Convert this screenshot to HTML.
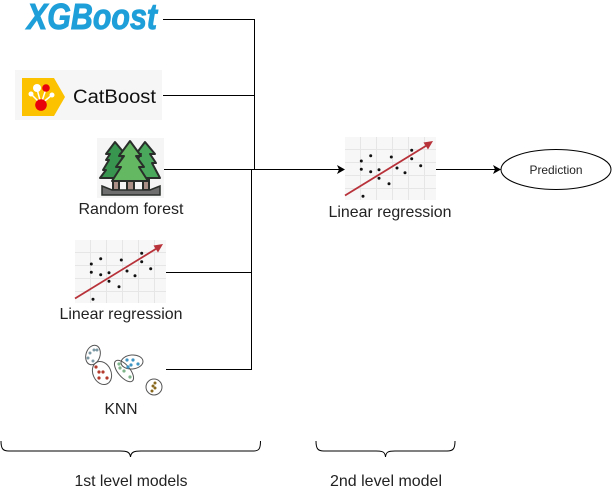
<!DOCTYPE html>
<html><head><meta charset="utf-8"><style>
html,body{margin:0;padding:0;background:#fff}
svg{display:block}
text{font-family:"Liberation Sans",sans-serif;fill:#222}
</style></head><body>
<svg width="612" height="491" viewBox="0 0 612 491" xmlns="http://www.w3.org/2000/svg">
<defs>
<g id="lr">
<rect x="0" y="0" width="91" height="63" fill="#f7f7f7"/>
<g stroke="#e6e6e6" stroke-width="1" fill="none">
<path d="M15.500 0V63M31.500 0V63M47.500 0V63M63.500 0V63M79.500 0V63M0 12.500H91M0 25.500H91M0 38.500H91M0 51.500H91"/>
</g>
<g fill="#111">
<circle cx="16.300" cy="24" r="1.500"/><circle cx="25.700" cy="18.700" r="1.500"/><circle cx="16.300" cy="32.300" r="1.500"/>
<circle cx="25.700" cy="34.700" r="1.500"/><circle cx="34" cy="32.700" r="1.500"/><circle cx="34" cy="41.300" r="1.500"/>
<circle cx="44" cy="46.700" r="1.500"/><circle cx="18" cy="59.300" r="1.500"/><circle cx="46.300" cy="20" r="1.500"/>
<circle cx="52" cy="31" r="1.500"/><circle cx="60" cy="35.700" r="1.500"/><circle cx="66.700" cy="13.300" r="1.500"/>
<circle cx="66.700" cy="21.700" r="1.500"/><circle cx="75.700" cy="28.700" r="1.500"/>
</g>
<path d="M0 58.500L84 7" stroke="#b8323a" stroke-width="1.800" fill="none"/>
<path d="M88 4L78.500 5.500L83 12.500Z" fill="#b8323a"/>
</g>
</defs>

<!-- XGBoost -->
<text x="27" y="29" font-size="36" font-weight="700" font-style="italic" textLength="130" lengthAdjust="spacingAndGlyphs" style="fill:#1f9fd9;stroke:#1f9fd9;stroke-width:1">XGBoost</text>

<!-- CatBoost -->
<rect x="15" y="70" width="147" height="50" fill="#f6f6f6"/>
<path d="M22 78H54L65 97L54 116H22Z" fill="#fcc200"/>
<g stroke="#fff" stroke-width="1.500" fill="none"><path d="M41 104L37 89M41 104L46 89M41 104L31 94M41 104L52 95"/></g>
<g fill="#fff"><circle cx="37" cy="88" r="4"/><circle cx="31" cy="94" r="2.500"/><circle cx="52" cy="95" r="2.500"/></g>
<g fill="#e8000b"><circle cx="46" cy="88" r="3.800"/><circle cx="41" cy="105" r="5.800"/></g>
<text x="73" y="103" font-size="19" textLength="83" lengthAdjust="spacingAndGlyphs" style="fill:#111">CatBoost</text>

<!-- Random forest icon -->
<rect x="97" y="138" width="67" height="60" fill="#f5f5f5"/>
<g stroke="#2a2e2b" stroke-width="2" stroke-linejoin="round">
<rect x="113" y="176" width="6" height="14" fill="#a98f85"/>
<rect x="127" y="178" width="7" height="14" fill="#a98f85"/>
<rect x="143" y="176" width="6" height="14" fill="#a98f85"/>
<path d="M115 142L125 154L120 154L128 165L122 165L129 178H100L106 170L103 170L109 160L106 160L110 154L106 154Z" fill="#37954f"/>
<path d="M145 142L155 154L150 154L156 163L152 163L160 178H132L139 165L134 165L141 154L136 154Z" fill="#4aa85c"/>
<path d="M130 141L141 156L136 156L144 167L139 167L148 181H112L121 167L116 167L124 156L119 156Z" fill="#65b862"/>
</g>
<path d="M102 186L112 190H150L160 186V195H102Z" fill="#6e6e6e" stroke="#2a2e2b" stroke-width="1.500"/>
<text x="131" y="214" font-size="16" text-anchor="middle" textLength="105" lengthAdjust="spacingAndGlyphs">Random forest</text>

<!-- 1st level LR -->
<use href="#lr" x="75" y="240"/>
<text x="121" y="319" font-size="16" text-anchor="middle" textLength="123" lengthAdjust="spacingAndGlyphs">Linear regression</text>

<!-- KNN -->
<g fill="none" stroke="#555" stroke-width="1">
<ellipse cx="93" cy="355" rx="7" ry="10" transform="rotate(18 93 355)"/>
<ellipse cx="102" cy="373" rx="9" ry="12" transform="rotate(-25 102 373)"/>
<ellipse cx="132" cy="362" rx="11" ry="7" transform="rotate(-5 132 362)"/>
<ellipse cx="124" cy="371" rx="6" ry="13" transform="rotate(-40 124 371)"/>
<ellipse cx="154" cy="387" rx="8" ry="8"/>
</g>
<g fill="#7b98a5"><circle cx="90" cy="353" r="1.500"/><circle cx="94" cy="350" r="1.500"/><circle cx="97" cy="350" r="1.500"/><circle cx="88" cy="358" r="1.500"/><circle cx="93" cy="361" r="1.500"/></g>
<g fill="#b33a2c"><circle cx="96" cy="367" r="1.600"/><circle cx="99" cy="372" r="1.600"/><circle cx="103" cy="372" r="1.600"/><circle cx="99" cy="378" r="1.600"/><circle cx="107" cy="378" r="1.600"/></g>
<g fill="#3f95c4"><circle cx="127" cy="360" r="1.600"/><circle cx="133" cy="360" r="1.600"/><circle cx="138" cy="364" r="1.600"/><circle cx="131" cy="365" r="1.600"/><circle cx="128" cy="367" r="1.600"/></g>
<g fill="#7fb58a"><circle cx="119" cy="364" r="1.600"/><circle cx="120" cy="368" r="1.600"/><circle cx="124" cy="371" r="1.600"/><circle cx="130" cy="377" r="1.600"/></g>
<g fill="#8a6a1f"><circle cx="155" cy="383" r="1.500"/><circle cx="153" cy="386" r="1.500"/><circle cx="155" cy="388" r="1.500"/><circle cx="152" cy="391" r="1.500"/></g>
<text x="121" y="414" font-size="16" text-anchor="middle" textLength="33" lengthAdjust="spacingAndGlyphs">KNN</text>

<!-- 2nd level LR -->
<use href="#lr" x="345" y="137"/>
<text x="390" y="217" font-size="16" text-anchor="middle" textLength="123" lengthAdjust="spacingAndGlyphs">Linear regression</text>

<!-- connectors -->
<g fill="none" stroke="#000" stroke-width="1">
<path d="M163 19.500H254.500V169"/>
<path d="M163 95.500H254"/>
<path d="M164 169.500H339"/>
<path d="M251.500 170V369.500H166"/>
<path d="M166 272.500H251"/>
<path d="M436 169.500H497"/>
<ellipse cx="556" cy="169.500" rx="55" ry="20"/>
<path d="M1 441C1 449 3 451 9 451H120C127 451 130 452 130.500 457C131 452 134 451 141 451H253C259 451 260.500 449 260.500 441"/>
<path d="M316 441C316 449 318 451 324 451H376C383 451 385 452 385.500 457C386 452 388 451 395 451H447C453 451 455 449 455 441"/>
</g>
<path d="M345 169.500L337 165L339 169.500L337 174Z" fill="#000"/>
<path d="M501 169.500L493 165L495 169.500L493 174Z" fill="#000"/>

<text x="556" y="174" font-size="12" text-anchor="middle" textLength="53" lengthAdjust="spacingAndGlyphs">Prediction</text>
<text x="131" y="486" font-size="16" text-anchor="middle" textLength="113" lengthAdjust="spacingAndGlyphs">1st level models</text>
<text x="386" y="486" font-size="16" text-anchor="middle" textLength="112" lengthAdjust="spacingAndGlyphs">2nd level model</text>
</svg>
</body></html>
